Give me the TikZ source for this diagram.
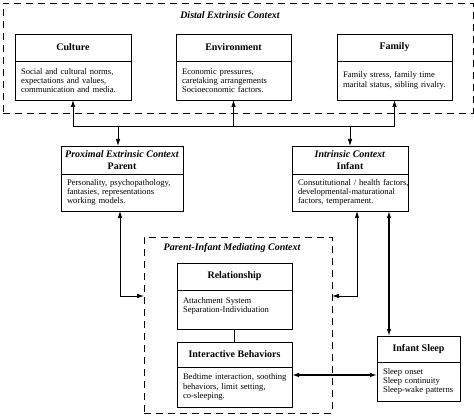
\documentclass[tikz,border=0pt]{standalone}
\usepackage{fontspec}
\setmainfont{Liberation Serif}
\usetikzlibrary{positioning,arrows.meta}
\begin{document}
\begin{tikzpicture}[x=1pt,y=-1pt,line width=0.7pt,
  hd/.style={draw,font=\bfseries\fontsize{10}{12}\selectfont,align=center,inner sep=0pt,outer sep=0pt},
  bd/.style={draw,font=\fontsize{8.6}{9.2}\selectfont,align=left,inner xsep=6pt,inner ysep=0pt,outer sep=0pt},
  ctx/.style={draw,dash pattern=on 7pt off 5pt,inner sep=0pt,outer sep=0pt},
  ttl/.style={font=\bfseries\itshape\fontsize{10}{12}\selectfont,inner sep=0pt},
  arr/.style={-{Latex[length=7pt,width=4.5pt]}},
  arr2/.style={{Latex[length=7pt,width=4.5pt]}-{Latex[length=7pt,width=4.5pt]}}]
  \useasboundingbox (0,0) rectangle (474,417);
  % Distal context
  \node[ctx,minimum width=470pt,minimum height=110pt] (distal) at (238,58) {};
  \node[ttl] (distal-t) at (230,15) {Distal Extrinsic Context};
  \node[hd,minimum width=116pt,minimum height=27pt] (culture) at (73,47.5) {Culture};
  \node[bd,text width=104pt,minimum height=39pt,below=0pt of culture] (culture-b)
    {Social and cultural norms,\\expectations and values,\\communication and media.};
  \node[hd,minimum width=115pt,minimum height=27pt] (environment) at (233.5,47.5) {Environment};
  \node[bd,text width=103pt,minimum height=39pt,below=0pt of environment] (environment-b)
    {Economic pressures,\\caretaking arrangements\\Socioeconomic factors.};
  \node[hd,minimum width=115pt,minimum height=27pt] (family) at (394.5,47.5) {Family};
  \node[bd,text width=103pt,minimum height=39pt,below=0pt of family] (family-b)
    {Family stress, family time\\marital status, sibling rivalry.};
  % Parent and infant
  \node[hd,minimum width=122pt,minimum height=28pt] (parent) at (122,160)
    {\textit{Proximal Extrinsic Context}\\Parent};
  \node[bd,text width=110pt,minimum height=37pt,below=0pt of parent] (parent-b)
    {\mbox{Personality, psychopathology,}\\fantasies, representations\\working models.};
  \node[hd,minimum width=116pt,minimum height=28pt] (infant) at (350,160)
    {\textit{Intrinsic Context}\\Infant};
  \node[bd,text width=104pt,minimum height=37pt,below=0pt of infant] (infant-b)
    {\mbox{Consutitutional / health factors,}\\developmental-maturational\\factors, temperament.};
  % Mediating context
  \node[ctx,minimum width=188pt,minimum height=176pt] (med) at (238,325) {};
  \node[ttl] (med-t) at (232,248) {Parent-Infant Mediating Context};
  \node[hd,minimum width=115pt,minimum height=27pt] (rel) at (234.5,276.5) {Relationship};
  \node[bd,text width=103pt,minimum height=39pt,below=0pt of rel] (rel-b)
    {Attachment System\\Separation-Individuation\\\mbox{}};
  \node[hd,minimum width=115pt,minimum height=25pt] (inter) at (234.5,354.5) {Interactive Behaviors};
  \node[bd,text width=103pt,minimum height=40pt,below=0pt of inter] (inter-b)
    {\mbox{Bedtime interaction, soothing}\\behaviors, limit setting,\\co-sleeping.};
  % Infant sleep
  \node[hd,minimum width=83pt,minimum height=26pt] (sleep) at (418.5,349) {Infant Sleep};
  \node[bd,text width=71pt,minimum height=39pt,below=0pt of sleep] (sleep-b)
    {Sleep onset\\Sleep continuity\\\mbox{Sleep-wake patterns}};
  % Connectors
  \coordinate (bus-l) at (73,126);
  \coordinate (mh) at (0,296);
  \coordinate (bh) at (0,375);
  \coordinate (pa) at ([xshift=-4pt]parent.north);
  \coordinate (pb) at ([xshift=-2pt]parent-b.south);
  \coordinate (ib) at ([xshift=7pt]infant-b.south);
  \coordinate (ic) at ([xshift=39pt]infant-b.south);
  \draw (bus-l) -- (family-b.south |- bus-l);
  \draw[arr] (bus-l) -- (culture-b.south);
  \draw[arr] (environment-b.south |- bus-l) -- (environment-b.south);
  \draw[arr] (family-b.south |- bus-l) -- (family-b.south);
  \draw[arr] (pa |- bus-l) -- (pa);
  \draw[arr] (infant.north |- bus-l) -- (infant.north);
  \draw[arr2] (pb) |- (med.west |- mh);
  \draw[arr2] (ib) |- (med.east |- mh);
  \draw[arr2,line width=1.3pt] (ic) -- (ic |- sleep.north);
  \draw (rel-b.south) -- (inter.north);
  \draw[arr2,line width=1.3pt] (inter-b.east |- bh) -- (sleep-b.west |- bh);
\end{tikzpicture}
\end{document}
